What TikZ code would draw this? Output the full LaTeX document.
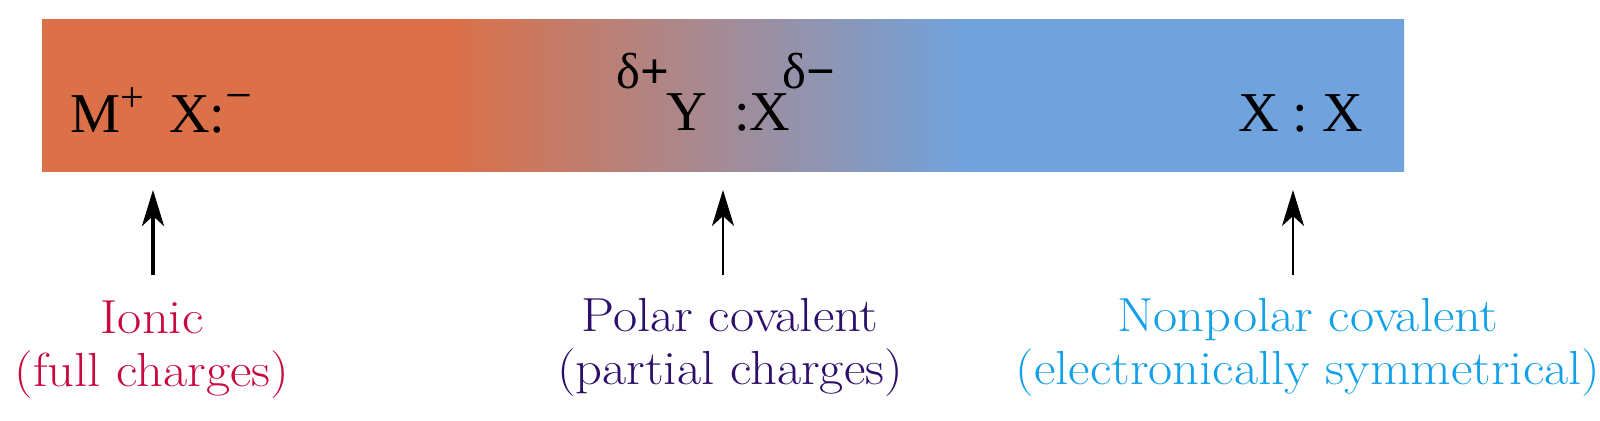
\documentclass[tikz,border=0pt]{standalone}
\usepackage{xcolor}
\usepackage{fontspec}
\newfontfamily\chemfont{Liberation Serif}
\newfontfamily\labelfont{Latin Modern Roman}[FakeStretch=1.1]
\usepackage{tikz}
\usetikzlibrary{positioning, calc, arrows.meta}

\definecolor{ionorange}{HTML}{DC7048}
\definecolor{covblue}{HTML}{70A3DD}
\definecolor{ioniccol}{HTML}{C8093F}
\definecolor{polarcol}{HTML}{2D0F6B}
\definecolor{nonpolarcol}{HTML}{12A0E8}

\pgfdeclarehorizontalshading{bondblend}{100bp}{color(0bp)=(ionorange); color(40bp)=(ionorange); color(59bp)=(covblue); color(100bp)=(covblue)}

\begin{document}
\begin{tikzpicture}
		\tikzstyle{formula}=[inner sep=0pt, anchor=base west, text=black, font=\chemfont\fontsize{40}{40}\selectfont]
		\tikzstyle{charge}=[inner sep=0pt, anchor=base west, text=black, font=\chemfont\fontsize{36}{36}\selectfont]
		\tikzstyle{bondlabel}=[inner sep=0pt, anchor=base, align=center, font=\labelfont\fontsize{34}{37}\selectfont]
		\tikzstyle{bondarrow}=[-{Stealth[length=9mm, width=5.5mm, inset=2.5mm]}, black, line width=1.6pt]

		% bar with the colour blend
		\node (bar) at (18.075,-2.375) [shade, shading=bondblend, minimum width=340.5mm, minimum height=38mm, inner sep=0pt] {};

		\node (mplus) at (1.75,-3.3) [formula] {M\raisebox{0.36em}{\fontsize{30}{30}\selectfont+}};
		\node (xminus) at (4.22,-3.3) [formula] {X:\raisebox{0.36em}{\fontsize{34}{34}\selectfont−}};

		\node (dplus) at (15.4,-2.2) [charge] {δ\textbf{+}};
		\node (yatom) at (16.65,-3.25) [formula] {Y};
		\node (xatom) at (18.35,-3.25) [formula] {:X};
		\node (dminus) at (19.55,-2.2) [charge] {δ\textbf{−}};

		\node (xx) at (30.95,-3.28) [formula] {X : X};

		\coordinate (a1s) at (3.825,-6.875);
		\coordinate (a1e) at (3.825,-4.75);
		\coordinate (a2s) at (18.075,-6.875);
		\coordinate (a2e) at (18.075,-4.75);
		\coordinate (a3s) at (32.325,-6.875);
		\coordinate (a3e) at (32.325,-4.75);
		\draw [bondarrow, line width=2.8pt] (a1s) -- (a1e);
		\draw [bondarrow] (a2s) -- (a2e);
		\draw [bondarrow] (a3s) -- (a3e);

		\node (ionic) at (3.8,-9.65) [bondlabel, text=ioniccol] {Ionic\\(full charges)};
		\node (polar) at (18.25,-9.6) [bondlabel, text=polarcol] {Polar covalent\\(partial charges)};
		\node (nonpolar) at (32.7,-9.6) [bondlabel, text=nonpolarcol] {Nonpolar covalent\\(electronically symmetrical)};

		\pgfresetboundingbox
		\useasboundingbox (0,0) rectangle (40,-10.5);
\end{tikzpicture}
\end{document}
